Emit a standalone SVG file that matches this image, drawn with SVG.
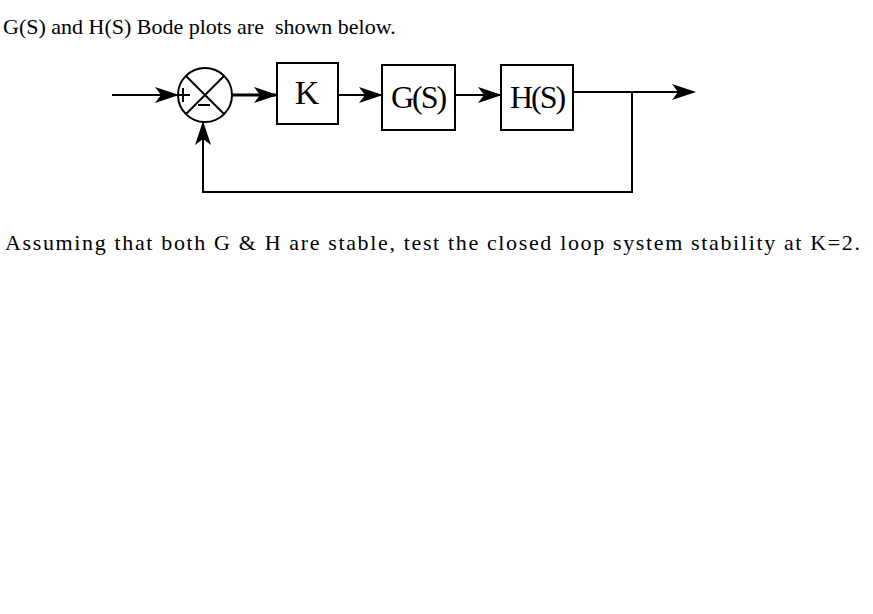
<svg xmlns="http://www.w3.org/2000/svg" width="873" height="614" viewBox="0 0 873 614">
<defs><marker id="a" markerWidth="24" markerHeight="16" refX="22" refY="8" orient="auto" markerUnits="userSpaceOnUse"><path d="M0,0 L24,8 L0,16 L6,8 Z" fill="#000"/></marker></defs>
<style>text{font-family:"Liberation Serif",serif;fill:#000}.b{fill:#fff;stroke:#000;stroke-width:2}.c{fill:none;stroke:#000;stroke-width:2}</style>
<rect width="873" height="614" fill="#fff"/>
<text x="3" y="34" font-size="22" xml:space="preserve">G(S) and H(S) Bode plots are  shown below.</text>
<text x="5" y="250" font-size="22" textLength="855">Assuming that both G &amp; H are stable, test the closed loop system stability at K=2.</text>
<g id="sum"><circle cx="205" cy="95" r="27" class="b" stroke-width="1.5"/><path d="M186,76 L224,114 M224,76 L186,114" class="c" stroke-width="1.2"/><path d="M176,95 h14 M183,88 v14" class="c" stroke-width="3"/><path d="M198,105 h12" class="c" stroke-width="3"/></g>
<g id="k"><rect x="277" y="63" width="61" height="61" class="b"/><text x="307" y="104" font-size="34" text-anchor="middle">K</text></g>
<g id="g"><rect x="382" y="65" width="73" height="65" class="b"/><text x="418" y="108" font-size="32" text-anchor="middle" letter-spacing="-2">G(S)</text></g>
<g id="h"><rect x="501" y="65" width="72" height="65" class="b"/><text x="537" y="108" font-size="32" text-anchor="middle" letter-spacing="-2">H(S)</text></g>
<g id="connectors" class="c">
<path d="M112,95 H177" marker-end="url(#a)"/>
<path d="M232,95 H276" marker-end="url(#a)" stroke-width="3"/>
<path d="M338,95 H381" marker-end="url(#a)"/>
<path d="M455,95 H500" marker-end="url(#a)"/>
<path d="M573,92 H694" marker-end="url(#a)"/>
<path d="M632,92 V192 H203 V123" marker-end="url(#a)"/>
</g>
</svg>
